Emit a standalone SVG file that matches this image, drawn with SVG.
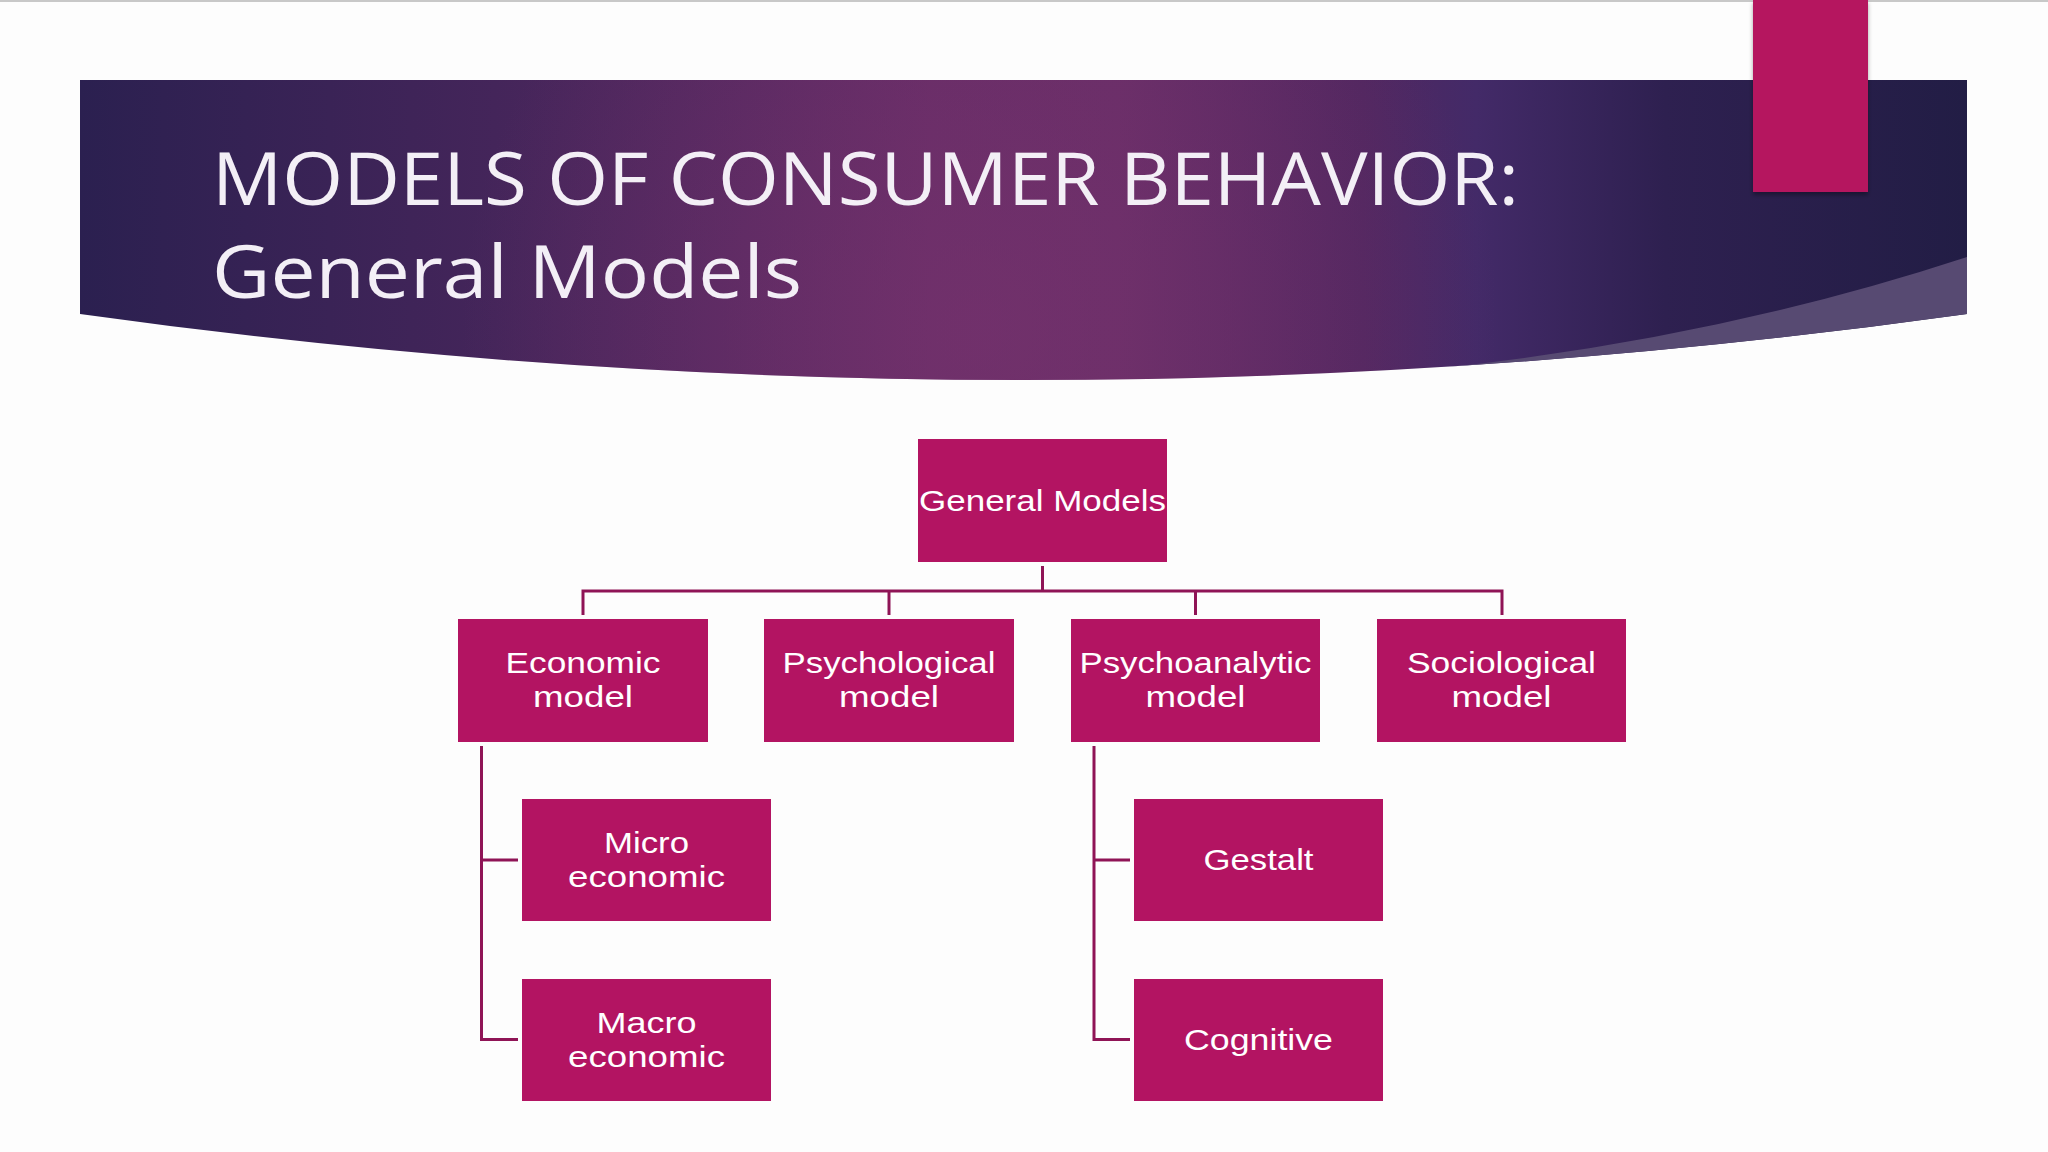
<svg xmlns="http://www.w3.org/2000/svg" width="2048" height="1152" viewBox="0 0 2048 1152">
  <defs>
    <linearGradient id="bannerGrad" x1="80" y1="0" x2="1967" y2="0" gradientUnits="userSpaceOnUse">
      <stop offset="0" stop-color="#2b2050"/>
      <stop offset="0.22" stop-color="#44255a"/>
      <stop offset="0.45" stop-color="#652c66"/>
      <stop offset="0.55" stop-color="#672d67"/>
      <stop offset="0.68" stop-color="#512760"/>
      <stop offset="0.74" stop-color="#432a68"/>
      <stop offset="0.84" stop-color="#2e2050"/>
      <stop offset="1" stop-color="#221d45"/>
    </linearGradient>
    <radialGradient id="glow" cx="980" cy="330" r="520" gradientUnits="userSpaceOnUse">
      <stop offset="0" stop-color="#7a346f" stop-opacity="0.55"/>
      <stop offset="1" stop-color="#7a346f" stop-opacity="0"/>
    </radialGradient>
    <clipPath id="bannerClip">
      <path d="M80,80 L1967,80 L1967,314 Q1023,446 80,314 Z"/>
    </clipPath>
    <filter id="tabShadow" x="-10%" y="-10%" width="120%" height="120%">
      <feDropShadow dx="0" dy="3" stdDeviation="2" flood-color="#000" flood-opacity="0.35"/>
    </filter>
    <style>
      .box { fill: #b31462; }
      .lbl { font-family: "Liberation Sans", Arial, sans-serif; font-size: 29px; fill: #ffffff; text-anchor: middle; }
      .title { font-family: "Open Sans", "Liberation Sans", sans-serif; font-size: 74px; fill: #f3eff6; }
      .conn { fill: none; stroke: #8f1456; stroke-width: 3; }
    </style>
  </defs>

  <rect x="0" y="0" width="2048" height="1152" fill="#fdfdfd"/>
  <rect x="0" y="0" width="2048" height="2" fill="#c8c8c8"/>

  <g id="banner">
    <path d="M80,80 L1967,80 L1967,314 Q1023,446 80,314 Z" fill="url(#bannerGrad)"/>
    <path d="M80,80 L1967,80 L1967,314 Q1023,446 80,314 Z" fill="url(#glow)"/>
    <path clip-path="url(#bannerClip)" d="M1450,367 Q1720,338 1967,257 L1967,420 L1450,420 Z" fill="#574a72"/>
  </g>

  <g id="tab">
    <rect x="1753" y="0" width="115" height="192" fill="#b5135f" filter="url(#tabShadow)"/>
  </g>

  <g id="title">
    <text class="title" x="212" y="205" textLength="1307" lengthAdjust="spacingAndGlyphs">MODELS OF CONSUMER BEHAVIOR:</text>
    <text class="title" x="212" y="298" textLength="590" lengthAdjust="spacingAndGlyphs">General Models</text>
  </g>

  <g id="connectors">
    <path class="conn" d="M1042.5,566 L1042.5,591"/>
    <path class="conn" d="M583,615 L583,591 L1502,591 L1502,615"/>
    <path class="conn" d="M889,591 L889,615"/>
    <path class="conn" d="M1195.5,591 L1195.5,615"/>
    <path class="conn" d="M481.5,746 L481.5,1039.5 L518,1039.5"/>
    <path class="conn" d="M481.5,860 L518,860"/>
    <path class="conn" d="M1094,746 L1094,1039.5 L1130,1039.5"/>
    <path class="conn" d="M1094,860 L1130,860"/>
  </g>

  <g id="node-general">
    <rect class="box" x="918" y="439" width="249" height="123"/>
    <text class="lbl" x="1042.5" y="511" textLength="247" lengthAdjust="spacingAndGlyphs">General Models</text>
  </g>

  <g id="node-economic">
    <rect class="box" x="458" y="619" width="250" height="123"/>
    <text class="lbl" x="583" y="673" textLength="155" lengthAdjust="spacingAndGlyphs">Economic</text>
    <text class="lbl" x="583" y="707" textLength="100" lengthAdjust="spacingAndGlyphs">model</text>
  </g>

  <g id="node-psychological">
    <rect class="box" x="764" y="619" width="250" height="123"/>
    <text class="lbl" x="889" y="673" textLength="213" lengthAdjust="spacingAndGlyphs">Psychological</text>
    <text class="lbl" x="889" y="707" textLength="100" lengthAdjust="spacingAndGlyphs">model</text>
  </g>

  <g id="node-psychoanalytic">
    <rect class="box" x="1071" y="619" width="249" height="123"/>
    <text class="lbl" x="1195.5" y="673" textLength="232" lengthAdjust="spacingAndGlyphs">Psychoanalytic</text>
    <text class="lbl" x="1195.5" y="707" textLength="100" lengthAdjust="spacingAndGlyphs">model</text>
  </g>

  <g id="node-sociological">
    <rect class="box" x="1377" y="619" width="249" height="123"/>
    <text class="lbl" x="1501.5" y="673" textLength="189" lengthAdjust="spacingAndGlyphs">Sociological</text>
    <text class="lbl" x="1501.5" y="707" textLength="100" lengthAdjust="spacingAndGlyphs">model</text>
  </g>

  <g id="node-micro">
    <rect class="box" x="522" y="799" width="249" height="122"/>
    <text class="lbl" x="646.5" y="853" textLength="85" lengthAdjust="spacingAndGlyphs">Micro</text>
    <text class="lbl" x="646.5" y="887" textLength="157" lengthAdjust="spacingAndGlyphs">economic</text>
  </g>

  <g id="node-macro">
    <rect class="box" x="522" y="979" width="249" height="122"/>
    <text class="lbl" x="646.5" y="1033" textLength="100" lengthAdjust="spacingAndGlyphs">Macro</text>
    <text class="lbl" x="646.5" y="1067" textLength="157" lengthAdjust="spacingAndGlyphs">economic</text>
  </g>

  <g id="node-gestalt">
    <rect class="box" x="1134" y="799" width="249" height="122"/>
    <text class="lbl" x="1258.5" y="870" textLength="110" lengthAdjust="spacingAndGlyphs">Gestalt</text>
  </g>

  <g id="node-cognitive">
    <rect class="box" x="1134" y="979" width="249" height="122"/>
    <text class="lbl" x="1258.5" y="1050" textLength="149" lengthAdjust="spacingAndGlyphs">Cognitive</text>
  </g>
</svg>
